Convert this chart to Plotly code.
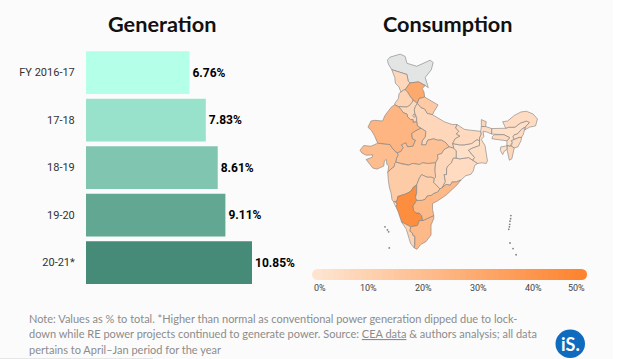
import math
import plotly.graph_objects as go
from plotly.colors import sample_colorscale

W, H = 620, 359
FONT = "Lato"
NARROW = "Roboto"

years = ["FY 2016-17", "17-18", "18-19", "19-20", "20-21*"]
generation = [6.76, 7.83, 8.61, 9.11, 10.85]
bar_colors = ["#b4ffe8", "#98e2cb", "#7fc5b0", "#62a792", "#468a78"]

# RE share of consumption by state (% read from colour), None = no data
consumption = {
    "Ladakh": None, "Jammu & Kashmir": 7, "Himachal Pradesh": 30, "Punjab": 9, "Haryana": 7,
    "Delhi": 2, "Uttarakhand": 14, "Uttar Pradesh": 7, "Rajasthan": 24, "Gujarat": 20,
    "Madhya Pradesh": 18, "Maharashtra": 13, "Goa": 3, "Karnataka": 44, "Kerala": 9,
    "Tamil Nadu": 22, "Andhra Pradesh": 22, "Telangana": 11, "Chhattisgarh": 7, "Odisha": 5,
    "Jharkhand": 3, "Bihar": 6, "West Bengal": 4, "Sikkim": 8, "Assam": 3, "Arunachal Pradesh": 5,
    "Nagaland": 5, "Manipur": 5, "Mizoram": 7, "Tripura": 3, "Meghalaya": 6,
}

# Base map: state outlines as (lon, lat)
outlines = {
    "Ladakh": [(72.7,36.3),(73.1,36.7),(74.8,37.1),(75.6,36.8),(75.9,35.9),(77.5,35.5),(79.7,36.3),(80.2,36.0),(79.9,35.05),(78.9,34.0),(79.4,32.6),(78.9,32.9),(77.8,33.4),(76.4,33.25),(76.1,33.5),(75.9,34.4),(73.4,35.05),(72.85,35.8)],
    "Jammu & Kashmir": [(73.4,35.05),(75.9,34.4),(76.1,33.5),(76.4,33.25),(75.9,32.7),(75.6,32.3),(75.4,32.3),(74.9,32.0),(74.6,32.7),(74.0,33.2),(73.9,34.0),(73.6,34.6)],
    "Himachal Pradesh": [(75.6,32.3),(75.9,32.1),(76.5,31.3),(76.9,30.9),(77.0,30.8),(77.6,30.4),(77.9,31.1),(78.4,31.2),(78.8,31.3),(78.7,32.0),(78.4,32.5),(78.9,32.9),(77.8,33.4),(76.4,33.25),(75.9,32.7)],
    "Punjab": [(73.9,30.2),(74.5,29.95),(75.3,29.9),(75.9,29.9),(76.3,30.1),(76.8,30.6),(76.9,30.9),(76.5,31.3),(75.9,32.1),(75.6,32.3),(75.4,32.3),(74.9,32.0),(74.6,31.8),(74.5,31.1),(73.9,30.4)],
    "Haryana": [(74.5,29.95),(75.0,29.5),(75.3,29.1),(75.9,28.9),(76.0,28.5),(76.5,28.1),(76.9,28.1),(76.9,27.7),(77.5,27.8),(77.5,28.4),(77.2,29.0),(77.1,29.5),(77.3,30.0),(77.6,30.4),(77.0,30.8),(76.9,30.9),(76.8,30.6),(76.3,30.1),(75.9,29.9),(75.3,29.9)],
    "Delhi": [(76.85,28.6),(77.0,28.9),(77.2,28.85),(77.3,28.6),(77.25,28.45),(77.05,28.45)],
    "Uttarakhand": [(77.6,30.4),(78.2,29.8),(78.8,29.6),(79.2,29.0),(80.1,28.8),(80.3,29.2),(81.0,30.2),(80.2,30.6),(79.4,31.0),(78.8,31.3),(78.4,31.2),(77.9,31.1)],
    "Uttar Pradesh": [(77.6,30.4),(78.2,29.8),(78.8,29.6),(79.2,29.0),(80.1,28.8),(81.1,28.3),(82.0,27.8),(83.3,27.4),(84.1,27.4),(83.9,26.9),(84.4,26.4),(84.0,26.0),(84.6,25.7),(83.8,25.3),(83.4,24.6),(83.6,23.9),(82.8,24.1),(82.3,24.7),(81.6,25.1),(80.9,25.1),(80.3,25.3),(79.3,25.1),(79.0,24.4),(78.3,24.4),(78.4,25.0),(78.9,25.6),(79.0,26.4),(78.2,26.85),(77.6,27.2),(77.5,27.8),(77.5,28.4),(77.2,29.0),(77.1,29.5),(77.3,30.0)],
    "Rajasthan": [(71.1,24.65),(70.9,25.1),(70.6,25.7),(70.1,26.5),(69.5,27.0),(70.0,27.9),(70.6,28.0),(71.9,27.9),(72.3,28.7),(72.9,29.4),(73.4,29.95),(73.9,30.2),(74.5,29.95),(75.0,29.5),(75.3,29.1),(75.9,28.9),(76.0,28.5),(76.5,28.1),(76.9,28.1),(76.9,27.7),(77.5,27.8),(77.6,27.2),(78.2,26.85),(77.4,26.5),(76.7,26.1),(76.7,25.7),(76.8,25.3),(77.3,25.1),(77.0,24.5),(76.9,24.2),(76.0,24.1),(75.7,24.7),(75.0,24.4),(75.3,24.0),(74.9,23.4),(74.3,23.2),(73.4,24.0),(73.1,24.45),(72.3,24.5)],
    "Gujarat": [(68.2,23.6),(68.8,24.3),(70.0,24.2),(71.1,24.65),(72.3,24.5),(73.1,24.45),(73.4,24.0),(74.3,23.2),(74.5,22.9),(74.2,22.4),(74.1,21.8),(73.9,21.6),(73.8,21.1),(73.2,20.7),(72.75,20.2),(72.9,21.2),(72.6,21.5),(72.5,22.2),(72.2,22.0),(72.1,21.2),(71.0,20.75),(70.3,20.9),(69.2,22.2),(70.2,22.55),(70.3,22.9),(69.2,22.85),(68.5,23.2)],
    "Madhya Pradesh": [(74.3,23.2),(74.9,23.4),(75.3,24.0),(75.0,24.4),(75.7,24.7),(76.0,24.1),(76.9,24.2),(77.0,24.5),(77.3,25.1),(76.8,25.3),(76.7,25.7),(76.7,26.1),(77.4,26.5),(78.2,26.85),(79.0,26.4),(78.9,25.6),(78.4,25.0),(78.3,24.4),(79.0,24.4),(79.3,25.1),(80.3,25.3),(80.9,25.1),(81.6,25.1),(82.3,24.7),(82.8,24.1),(82.0,23.7),(81.6,23.1),(80.9,22.9),(81.0,22.4),(80.6,21.7),(79.4,21.6),(78.4,21.7),(78.0,21.45),(76.8,21.6),(76.2,21.35),(75.0,21.55),(74.1,21.8),(74.2,22.4),(74.5,22.9)],
    "Maharashtra": [(74.1,21.8),(75.0,21.55),(76.2,21.35),(76.8,21.6),(78.0,21.45),(78.4,21.7),(79.4,21.6),(80.6,21.7),(80.5,20.8),(80.5,20.5),(80.6,19.5),(80.4,19.3),(79.9,19.5),(79.2,19.5),(78.3,19.9),(77.9,19.3),(77.6,18.5),(77.5,18.3),(77.0,18.0),(76.5,17.3),(75.7,16.9),(75.0,16.7),(74.4,16.5),(74.3,15.9),(74.0,15.7),(73.7,15.7),(73.45,16.0),(73.3,17.0),(73.0,18.0),(72.85,19.0),(72.75,20.2),(73.2,20.7),(73.8,21.1),(73.9,21.6)],
    "Goa": [(73.7,15.7),(74.0,15.7),(74.3,15.3),(74.1,14.9),(73.9,15.2)],
    "Karnataka": [(77.5,18.3),(77.0,18.0),(76.5,17.3),(75.7,16.9),(75.0,16.7),(74.4,16.5),(74.3,15.9),(74.0,15.7),(74.3,15.3),(74.1,14.9),(74.5,14.0),(74.75,13.0),(75.0,12.5),(75.3,12.3),(75.6,12.1),(76.1,11.9),(76.5,11.7),(77.0,11.8),(77.6,11.9),(77.8,12.3),(77.9,12.7),(78.5,12.7),(78.3,13.5),(77.9,13.9),(77.4,13.9),(77.0,14.3),(76.9,15.0),(77.2,15.5),(77.5,15.9),(77.3,16.4),(77.5,17.0)],
    "Kerala": [(75.0,12.5),(75.3,12.3),(75.6,12.1),(76.1,11.9),(76.5,11.7),(76.4,11.0),(76.8,10.7),(76.9,10.3),(77.2,10.2),(77.2,9.5),(77.2,8.8),(77.1,8.3),(76.5,9.0),(76.25,10.0),(75.8,11.3)],
    "Tamil Nadu": [(76.5,11.7),(77.0,11.8),(77.6,11.9),(77.8,12.3),(77.9,12.7),(78.5,12.7),(79.3,13.1),(80.3,13.5),(80.3,13.0),(79.85,12.0),(79.85,10.4),(79.0,9.3),(78.2,8.9),(77.55,8.08),(77.1,8.3),(77.2,8.8),(77.2,9.5),(77.2,10.2),(76.9,10.3),(76.8,10.7),(76.4,11.0)],
    "Andhra Pradesh": [(78.5,12.7),(79.3,13.1),(80.3,13.5),(80.1,14.5),(80.1,15.4),(80.9,15.8),(81.7,16.4),(82.3,16.7),(83.3,17.6),(84.1,18.3),(84.8,19.1),(84.0,18.8),(83.3,18.8),(83.0,18.3),(82.3,18.4),(81.7,17.9),(81.3,17.7),(80.9,17.2),(80.3,17.0),(79.9,16.7),(79.2,16.6),(78.9,16.1),(78.3,15.9),(77.5,15.9),(77.2,15.5),(76.9,15.0),(77.0,14.3),(77.4,13.9),(77.9,13.9),(78.3,13.5)],
    "Telangana": [(77.5,18.3),(77.5,17.0),(77.3,16.4),(77.5,15.9),(78.3,15.9),(78.9,16.1),(79.2,16.6),(79.9,16.7),(80.3,17.0),(80.9,17.2),(81.3,17.7),(80.8,18.2),(80.3,18.7),(80.4,19.3),(79.9,19.5),(79.2,19.5),(78.3,19.9),(77.9,19.3),(77.6,18.5)],
    "Chhattisgarh": [(82.8,24.1),(83.6,23.9),(84.0,23.5),(84.0,22.9),(84.0,22.4),(83.5,22.4),(83.2,21.7),(82.6,21.2),(82.4,20.8),(82.4,19.9),(82.0,19.9),(82.2,18.8),(81.7,17.9),(81.3,17.7),(80.8,18.2),(80.3,18.7),(80.4,19.3),(80.6,19.5),(80.5,20.5),(80.5,20.8),(80.6,21.7),(81.0,22.4),(80.9,22.9),(81.6,23.1),(82.0,23.7)],
    "Odisha": [(84.8,19.1),(85.5,19.7),(86.4,19.95),(86.8,20.5),(87.0,21.3),(87.5,21.6),(87.0,21.9),(86.7,22.1),(86.0,22.5),(85.1,22.4),(84.6,22.3),(84.0,22.4),(83.5,22.4),(83.2,21.7),(82.6,21.2),(82.4,20.8),(82.4,19.9),(82.0,19.9),(82.2,18.8),(81.7,17.9),(82.3,18.4),(83.0,18.3),(83.3,18.8),(84.0,18.8)],
    "Jharkhand": [(83.4,24.6),(83.6,23.9),(84.0,23.5),(84.0,22.9),(84.0,22.4),(84.6,22.3),(85.1,22.4),(86.0,22.5),(86.7,22.1),(87.0,22.5),(86.5,23.0),(86.0,23.6),(86.6,23.9),(87.3,24.2),(87.8,24.3),(87.8,25.0),(87.4,25.2),(86.5,24.6),(85.3,24.4),(84.5,24.4)],
    "Bihar": [(84.1,27.4),(84.7,27.1),(85.3,26.7),(86.0,26.6),(87.0,26.5),(88.0,26.4),(88.1,26.0),(87.8,25.4),(87.8,25.0),(87.4,25.2),(86.5,24.6),(85.3,24.4),(84.5,24.4),(83.4,24.6),(83.8,25.3),(84.6,25.7),(84.0,26.0),(84.4,26.4),(83.9,26.9)],
    "West Bengal": [(87.5,21.6),(87.0,21.9),(86.7,22.1),(87.0,22.5),(86.5,23.0),(86.0,23.6),(86.6,23.9),(87.3,24.2),(87.8,24.3),(87.8,25.0),(87.8,25.4),(88.1,26.0),(88.0,26.4),(88.1,27.1),(88.8,27.1),(89.8,26.8),(89.8,26.0),(89.0,26.3),(88.4,26.4),(88.5,25.6),(88.1,25.2),(88.7,24.3),(88.9,23.3),(89.1,22.0),(88.9,21.6),(88.2,21.7)],
    "Sikkim": [(88.1,27.1),(88.8,27.1),(88.9,27.8),(88.1,28.1)],
    "Assam": [(89.8,26.8),(90.8,26.8),(92.1,26.85),(92.6,27.0),(93.6,27.0),(94.5,27.6),(95.5,27.9),(96.0,27.7),(95.6,27.3),(95.3,27.0),(94.7,26.7),(94.0,26.0),(93.5,25.9),(93.3,25.6),(93.5,25.2),(93.0,25.0),(93.2,24.8),(92.8,24.2),(92.3,24.3),(92.3,25.0),(92.6,25.3),(92.7,25.5),(91.8,25.9),(90.2,25.9),(89.8,26.0)],
    "Meghalaya": [(90.2,25.9),(91.8,25.9),(92.7,25.5),(92.6,25.3),(92.3,25.0),(91.0,25.2),(89.85,25.3),(89.9,25.6)],
    "Arunachal Pradesh": [(91.6,27.8),(92.1,26.85),(92.6,27.0),(93.6,27.0),(94.5,27.6),(95.5,27.9),(96.0,27.7),(95.6,27.3),(95.3,27.0),(95.2,26.6),(96.0,27.0),(97.0,27.2),(97.3,28.2),(96.6,28.9),(95.5,29.3),(94.6,29.2),(93.5,28.7),(92.4,27.9)],
    "Nagaland": [(95.3,27.0),(94.7,26.7),(94.0,26.0),(93.5,25.9),(93.3,25.6),(93.5,25.2),(94.3,25.5),(94.7,25.5),(95.0,26.0),(95.2,26.6)],
    "Manipur": [(93.5,25.2),(94.3,25.5),(94.7,25.5),(94.6,25.0),(94.1,24.1),(93.5,23.95),(93.0,24.2),(93.2,24.8),(93.0,25.0)],
    "Mizoram": [(92.8,24.2),(93.0,24.2),(93.5,23.95),(93.3,23.0),(93.1,22.3),(92.7,22.1),(92.5,22.9),(92.3,23.7),(92.3,24.3)],
    "Tripura": [(92.3,24.3),(92.3,23.7),(91.9,23.5),(91.6,22.95),(91.2,23.6),(91.3,24.1),(92.0,24.2)],
}
island_lon = [72.3, 72.7, 72.9, 73.0, 92.95, 92.9, 92.8, 92.75, 92.7, 92.6, 92.8, 93.3, 93.8]
island_lat = [11.7, 11.2, 10.9, 8.3, 13.5, 13.0, 12.6, 12.1, 11.7, 11.3, 9.1, 8.2, 7.2]

scale_ticks = [0, 10, 20, 30, 40, 50]
scale_labels = ["0%", "10%", "20%", "30%", "40%", "50%"]
scale_colors = [[0, "#fee5d2"], [1, "#fd812b"]]
NO_DATA = "#e3e4e4"

note_lines = [
    "Note: Values as % to total. *Higher than normal as conventional power generation dipped due to lock-",
    "down while RE power projects continued to generate power. Source: <u>CEA data</u> &amp; authors analysis; all data",
    "pertains to April–Jan period for the year",
]


def merc(lat):
    return math.degrees(math.log(math.tan(math.radians(45 + lat / 2))))


def dx(a, b):
    return [a / W, b / W]


def dy(top, bottom):
    return [1 - bottom / H, 1 - top / H]


def state_color(v):
    if v is None:
        return NO_DATA
    return sample_colorscale(scale_colors, [v / 50])[0]


fig = go.Figure()

fig.add_trace(go.Bar(
    x=generation, y=years, orientation="h", width=0.9, xaxis="x", yaxis="y",
    marker=dict(color=bar_colors, line_width=0),
    text=[f"{v:.2f}%" for v in generation], textposition="outside", cliponaxis=False,
    textfont=dict(family=NARROW, size=12, color="#000000", weight=700),
    hovertemplate="%{y}: %{x}%<extra></extra>",
))

for name, pts in outlines.items():
    fig.add_trace(go.Scatter(
        x=[p[0] for p in pts] + [pts[0][0]], y=[merc(p[1]) for p in pts] + [merc(pts[0][1])],
        mode="lines", fill="toself", fillcolor=state_color(consumption[name]),
        line=dict(color="#7d7d7d", width=0.6), name=name, xaxis="x2", yaxis="y2",
        hoverinfo="name",
    ))
fig.add_trace(go.Scatter(
    x=island_lon, y=[merc(v) for v in island_lat], mode="markers", xaxis="x2", yaxis="y2",
    marker=dict(color="#808080", size=1.8), hoverinfo="skip",
))

strip_x = list(range(1, 49))
fig.add_trace(go.Heatmap(
    x=strip_x, y=[0], z=[strip_x], zmin=0, zmax=50, colorscale=scale_colors,
    showscale=False, xaxis="x3", yaxis="y3", hoverinfo="skip",
))
fig.add_trace(go.Scatter(
    x=[0.65, 48.65], y=[0, 0], mode="markers", xaxis="x3", yaxis="y3", cliponaxis=False,
    marker=dict(size=11, color=[0.65, 48.65], cmin=0, cmax=50, colorscale=scale_colors, line_width=0),
    hoverinfo="skip",
))

annotations = [
    dict(text="<b>Generation</b>", x=162 / W, y=1 - 23.5 / H, font=dict(size=21.7, color="#111111")),
    dict(text="<b>Consumption</b>", x=448 / W, y=1 - 23.5 / H, font=dict(size=21.7, color="#111111")),
    dict(text="<b>iS.</b>", x=570 / W, y=1 - 344 / H, font=dict(size=18, color="#ffffff")),
]
for line, ypx in zip(note_lines, [318, 333.5, 349]):
    annotations.append(dict(text=line, x=27 / W, y=1 - ypx / H, xanchor="left",
                            font=dict(size=11, color="#8c8c8c")))
for k in annotations:
    k.update(xref="paper", yref="paper", showarrow=False, xanchor=k.get("xanchor", "center"), yanchor="middle")
for t, lab in zip(scale_ticks, scale_labels):
    anchor = "left" if t == 0 else "right" if t == 50 else "center"
    xval = 0 if t == 0 else 49.6 if t == 50 else t
    annotations.append(dict(text=lab, x=xval, y=1 - 288 / H, xref="x3", yref="paper",
                            xshift=-2 if t == 0 else 0,
                            showarrow=False, xanchor=anchor, yanchor="middle",
                            font=dict(family=NARROW, size=9, color="#444444")))

hidden = dict(visible=False, fixedrange=True)
fig.update_layout(
    width=W, height=H, autosize=False, showlegend=False,
    margin=dict(l=0, r=0, t=0, b=0),
    paper_bgcolor="#ffffff", plot_bgcolor="rgba(0,0,0,0)",
    font=dict(family=FONT),
    bargap=0.1,
    xaxis=dict(domain=dx(86, 269.6), range=[0, 12], **hidden),
    yaxis=dict(domain=dy(48.75, 286.25), categoryorder="array", categoryarray=years,
               autorange="reversed", showline=False, showgrid=False, zeroline=False,
               ticks="outside", ticklen=8, tickcolor="rgba(0,0,0,0)",
               tickfont=dict(family=NARROW, size=11, color="#333333"), fixedrange=True),
    xaxis2=dict(domain=dx(340, 560), range=[64.92, 101.0], anchor="y2", **hidden),
    yaxis2=dict(domain=dy(40, 260), range=[6.36, 42.31], anchor="x2", **hidden),
    xaxis3=dict(domain=dx(312, 587), range=[-0.36, 49.64], anchor="y3", **hidden),
    yaxis3=dict(domain=dy(269, 280), range=[-0.5, 0.5], anchor="x3", **hidden),
    annotations=annotations,
    shapes=[
        dict(type="rect", xref="paper", yref="paper", x0=0, x1=613 / W, y0=0, y1=1,
             fillcolor="#fbfbfb", line_width=0, layer="below"),
        dict(type="rect", xref="paper", yref="paper", x0=0, x1=153 / W, y0=0, y1=1 / H,
             fillcolor="#e6e6e6", line_width=0, layer="below"),
        dict(type="circle", xref="paper", yref="paper", x0=555.5 / W, x1=585 / W,
             y0=1 - 358 / H, y1=1 - 329.5 / H, fillcolor="#0f6bbd", line_width=0, layer="below"),
    ],
)
fig.write_html("out.html", post_script="document.body.style.margin='0';",
               config=dict(displayModeBar=False))
